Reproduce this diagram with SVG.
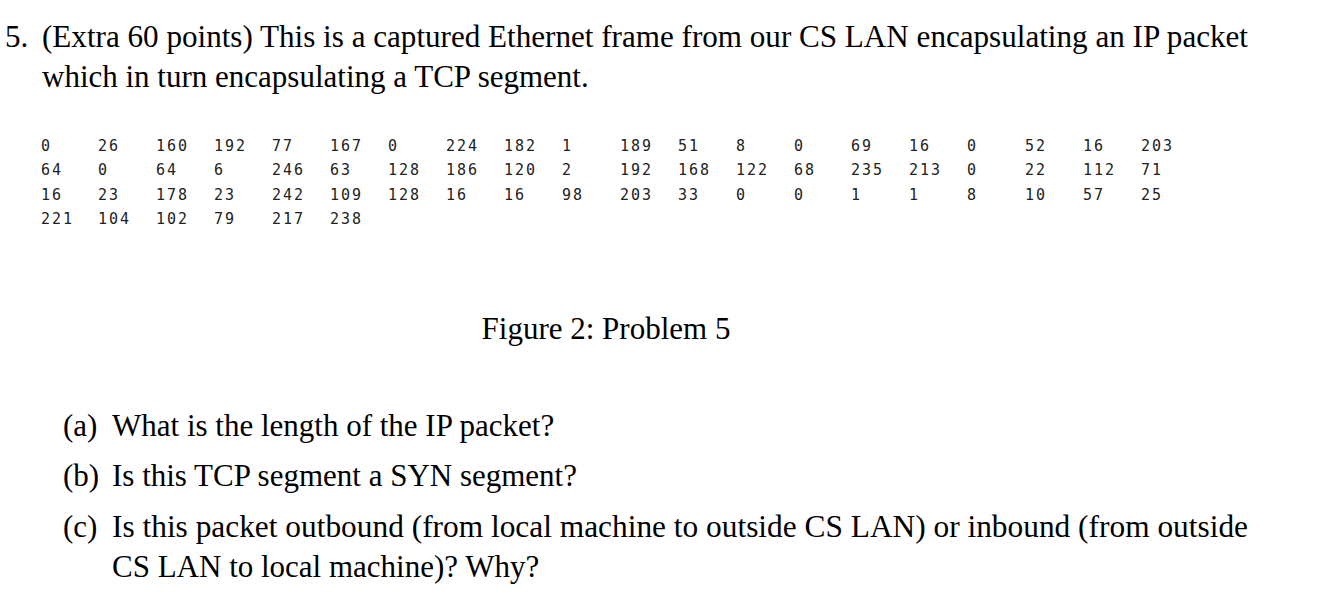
<svg xmlns="http://www.w3.org/2000/svg" width="1324" height="598" viewBox="0 0 1324 598">
<style>
.t{font-family:"Liberation Serif",serif;font-size:31px;fill:#000}
.m{font-family:"DejaVu Sans Mono","Liberation Mono",monospace;font-size:15px;letter-spacing:2px;fill:#222}
</style>
<rect width="1324" height="598" fill="#fff"/>
<text class="t" x="5" y="47">5.</text>
<text class="t" x="42" y="47" textLength="1206" lengthAdjust="spacingAndGlyphs">(Extra 60 points) This is a captured Ethernet frame from our CS LAN encapsulating an IP packet</text>
<text class="t" x="42" y="87">which in turn encapsulating a TCP segment.</text>
<g class="m">
<text y="151"><tspan x="41">0</tspan><tspan x="98">26</tspan><tspan x="156">160</tspan><tspan x="214">192</tspan><tspan x="272">77</tspan><tspan x="330">167</tspan><tspan x="388">0</tspan><tspan x="446">224</tspan><tspan x="504">182</tspan><tspan x="562">1</tspan><tspan x="620">189</tspan><tspan x="678">51</tspan><tspan x="736">8</tspan><tspan x="794">0</tspan><tspan x="851">69</tspan><tspan x="909">16</tspan><tspan x="967">0</tspan><tspan x="1025">52</tspan><tspan x="1083">16</tspan><tspan x="1141">203</tspan></text>
<text y="175"><tspan x="41">64</tspan><tspan x="98">0</tspan><tspan x="156">64</tspan><tspan x="214">6</tspan><tspan x="272">246</tspan><tspan x="330">63</tspan><tspan x="388">128</tspan><tspan x="446">186</tspan><tspan x="504">120</tspan><tspan x="562">2</tspan><tspan x="620">192</tspan><tspan x="678">168</tspan><tspan x="736">122</tspan><tspan x="794">68</tspan><tspan x="851">235</tspan><tspan x="909">213</tspan><tspan x="967">0</tspan><tspan x="1025">22</tspan><tspan x="1083">112</tspan><tspan x="1141">71</tspan></text>
<text y="200"><tspan x="41">16</tspan><tspan x="98">23</tspan><tspan x="156">178</tspan><tspan x="214">23</tspan><tspan x="272">242</tspan><tspan x="330">109</tspan><tspan x="388">128</tspan><tspan x="446">16</tspan><tspan x="504">16</tspan><tspan x="562">98</tspan><tspan x="620">203</tspan><tspan x="678">33</tspan><tspan x="736">0</tspan><tspan x="794">0</tspan><tspan x="851">1</tspan><tspan x="909">1</tspan><tspan x="967">8</tspan><tspan x="1025">10</tspan><tspan x="1083">57</tspan><tspan x="1141">25</tspan></text>
<text y="224"><tspan x="41">221</tspan><tspan x="98">104</tspan><tspan x="156">102</tspan><tspan x="214">79</tspan><tspan x="272">217</tspan><tspan x="330">238</tspan></text>
</g>
<text class="t" x="606" y="339" text-anchor="middle">Figure 2: Problem 5</text>
<text class="t" x="63" y="436">(a)</text><text class="t" x="112" y="436">What is the length of the IP packet?</text>
<text class="t" x="63" y="486">(b)</text><text class="t" x="112" y="486">Is this TCP segment a SYN segment?</text>
<text class="t" x="63" y="537">(c)</text><text class="t" x="112" y="537" textLength="1136" lengthAdjust="spacingAndGlyphs">Is this packet outbound (from local machine to outside CS LAN) or inbound (from outside</text>
<text class="t" x="112" y="577">CS LAN to local machine)? Why?</text>
</svg>
